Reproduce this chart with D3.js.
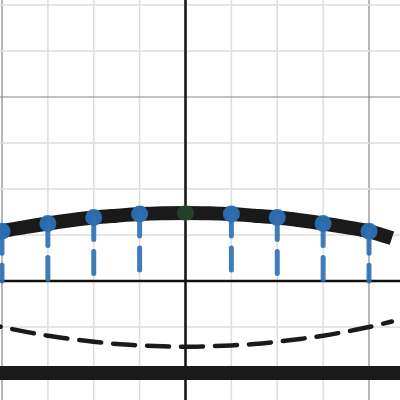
<!DOCTYPE html>
<html><head><script src="https://cdn.jsdelivr.net/npm/d3@7"></script>
<style>body{margin:0;background:#fff}</style></head>
<body><svg id="c" width="400" height="400"></svg>
<script>
// solid curve samples
var curveX = [-4.5,-4,-3.5,-3,-2.5,-2,-1.5,-1,-0.5,0,0.5,1,1.5,2,2.5,3,3.5,4,4.5];
var curveY = [0.93,1.08,1.17,1.25,1.32,1.38,1.42,1.455,1.475,1.48,1.475,1.455,1.42,1.38,1.32,1.25,1.17,1.08,0.93];
// dashed curve samples
var dashY = [-0.88,-1.0,-1.1,-1.19,-1.26,-1.32,-1.37,-1.4,-1.42,-1.43,-1.42,-1.4,-1.37,-1.32,-1.26,-1.19,-1.1,-1.0,-0.88];
var stemX = [-4,-3,-2,-1,1,2,3,4];
var stemY = [1.08,1.25,1.38,1.455,1.455,1.38,1.25,1.08];
var flatY = -2;

var svg = d3.select("#c");
var x = d3.scaleLinear().domain([-4, 4]).range([2, 369]);
var y = d3.scaleLinear().domain([0, 4]).range([281, 97]);

// grid
var gx = d3.range(-5, 6), gy = d3.range(-3, 7);
svg.selectAll(".vx").data(gx).enter().append("line")
  .attr("x1", d => x(d)).attr("x2", d => x(d)).attr("y1", 0).attr("y2", 400)
  .attr("stroke", d => d % 4 == 0 ? "#888" : "#ddd").attr("stroke-width", d => d % 4 == 0 ? 1.2 : 1.5);
svg.selectAll(".hy").data(gy).enter().append("line")
  .attr("y1", d => y(d)).attr("y2", d => y(d)).attr("x1", 0).attr("x2", 400)
  .attr("stroke", d => d % 4 == 0 ? "#888" : "#ddd").attr("stroke-width", d => d % 4 == 0 ? 1.2 : 1.5);
// axes
svg.append("line").attr("x1", x(0)).attr("x2", x(0)).attr("y1", 0).attr("y2", 400).attr("stroke", "#111").attr("stroke-width", 2.5);
svg.append("line").attr("y1", y(0)).attr("y2", y(0)).attr("x1", 0).attr("x2", 400).attr("stroke", "#111").attr("stroke-width", 2.5);

var line = d3.line().curve(d3.curveCatmullRom);
var pts = curveX.map((d, i) => [x(d), y(curveY[i])]);
svg.append("path").attr("d", line(pts)).attr("fill", "none").attr("stroke", "#1a1a1a").attr("stroke-width", 14);
var dpts = curveX.map((d, i) => [x(d), y(dashY[i])]);
svg.append("path").attr("d", line(dpts)).attr("fill", "none").attr("stroke", "#1a1a1a")
  .attr("stroke-width", 4.5).attr("stroke-dasharray", "22,12").attr("stroke-linecap", "round");
svg.append("line").attr("x1", 0).attr("x2", 400).attr("y1", y(flatY)).attr("y2", y(flatY)).attr("stroke", "#1a1a1a").attr("stroke-width", 14);

// stems
svg.selectAll(".st").data(stemX).enter().append("line")
  .attr("x1", d => x(d)).attr("x2", d => x(d)).attr("y1", (d, i) => y(stemY[i])).attr("y2", y(0))
  .attr("stroke", "#2d70b3").attr("stroke-width", 5).attr("stroke-dasharray", "22,12").attr("stroke-linecap", "round").attr("opacity", 0.9);
svg.selectAll(".pt").data(stemX).enter().append("circle")
  .attr("cx", d => x(d)).attr("cy", (d, i) => y(stemY[i])).attr("r", 8.5).attr("fill", "#2d70b3").attr("opacity", 0.95);
svg.append("circle").attr("cx", x(0)).attr("cy", y(1.48)).attr("r", 8.5).attr("fill", "#388c46").attr("opacity", 0.35);
</script></body></html>
